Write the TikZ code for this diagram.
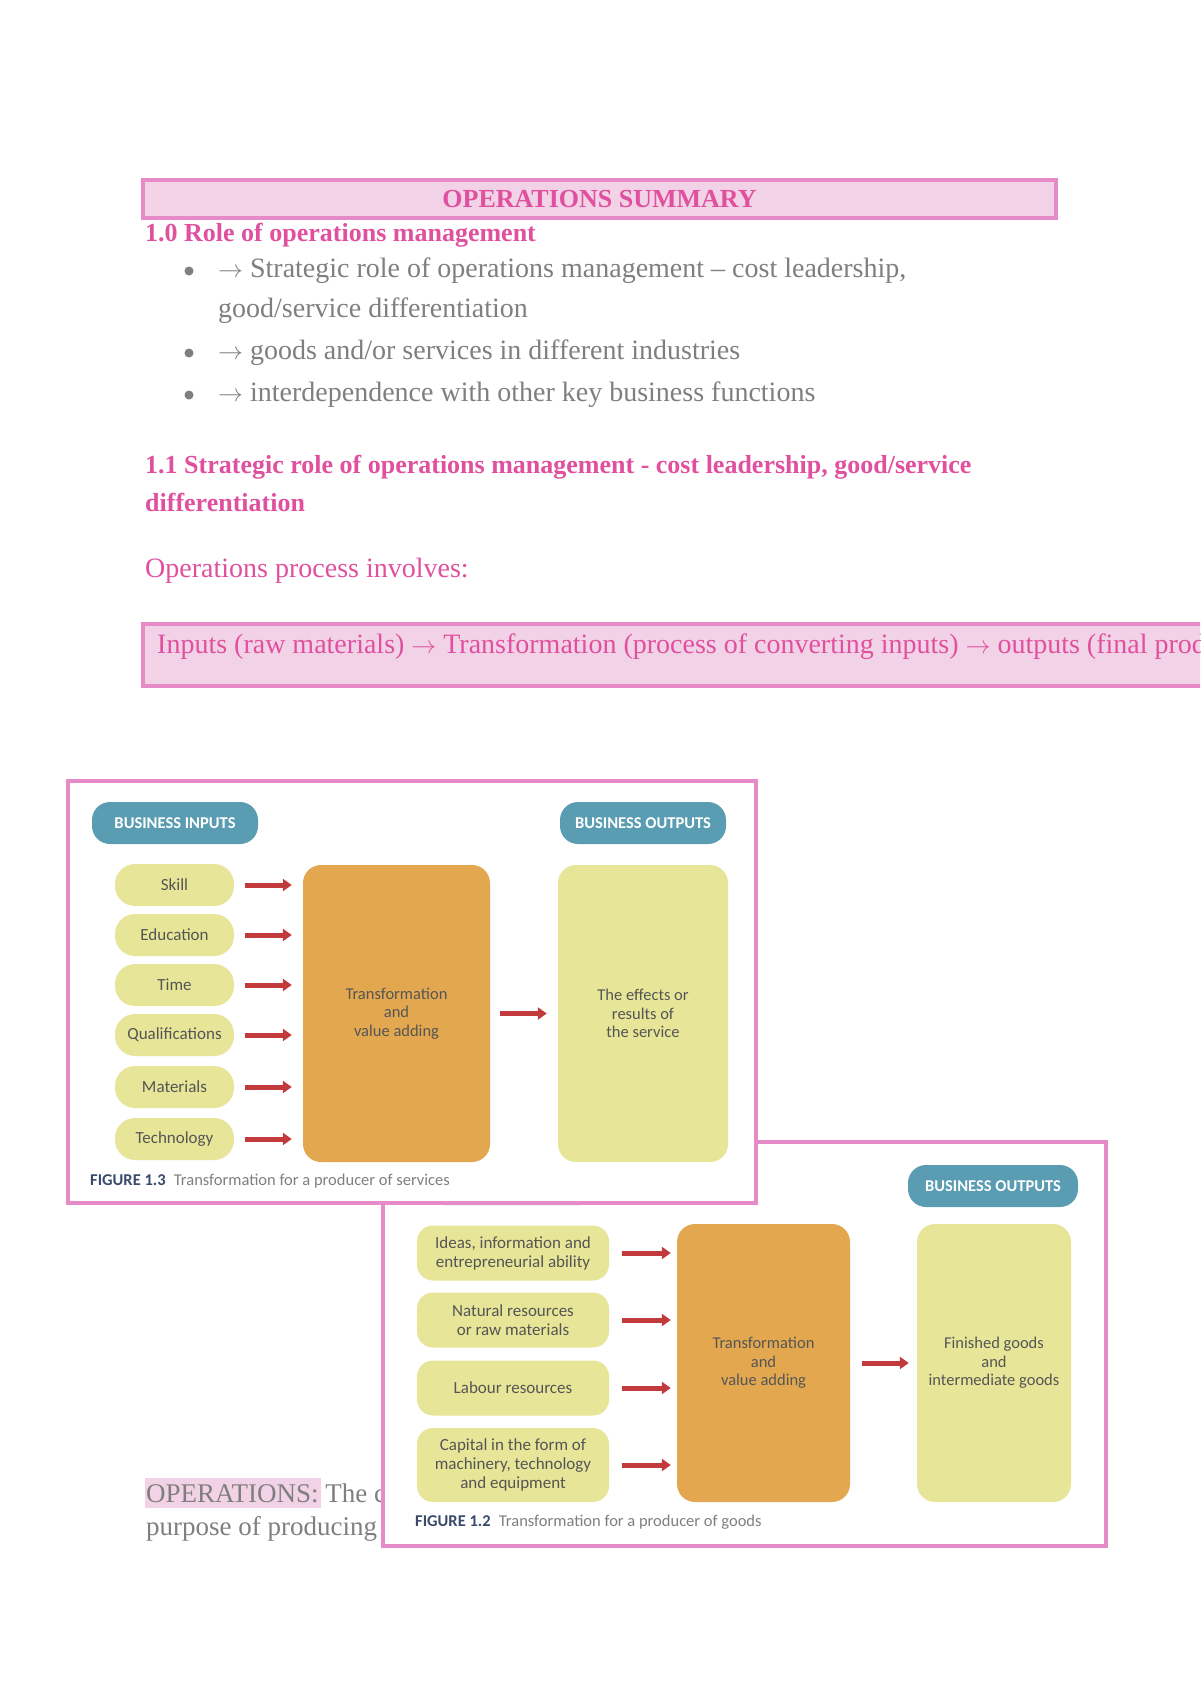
\documentclass[tikz,border=0pt]{standalone}
\usepackage{fontspec}
\setmainfont{Liberation Serif}
\newfontfamily\figfont{Carlito}
\usetikzlibrary{arrows.meta}
\definecolor{pinkline}{HTML}{E68AC8}
\definecolor{pinkfill}{HTML}{F2D2E6}
\definecolor{pinktext}{HTML}{E0509F}
\definecolor{graytext}{HTML}{7F7F7F}
\definecolor{teal}{HTML}{5A9DB2}
\definecolor{ylw}{HTML}{E7E698}
\definecolor{orng}{HTML}{E3A84F}
\definecolor{arrred}{HTML}{C23A3C}
\definecolor{capblue}{HTML}{3A4A6A}
\definecolor{figtext}{HTML}{555555}
\tikzset{
  head/.style={font=\fontsize{26}{30}\selectfont\bfseries, text=pinktext, anchor=west, inner sep=0},
  body/.style={font=\fontsize{28}{32}\selectfont, text=graytext, anchor=west, inner sep=0},
  frame/.style={draw=pinkline, line width=4pt, fill=white},
  pill/.style={fill=teal, rounded corners=18pt, text=white, font=\figfont\fontsize{16.5}{18}\selectfont\bfseries, inner sep=0},
  inbox/.style={fill=ylw, rounded corners=16pt, text=figtext, font=\figfont\fontsize{17}{19}\selectfont, inner sep=0, align=center},
  bigbox/.style={rounded corners=18pt, text=figtext, font=\figfont\fontsize{16.5}{18.5}\selectfont, inner sep=0, align=center},
  redarr/.style={draw=arrred, line width=5pt, -{Triangle[length=9pt,width=12pt]}},
  figcap/.style={anchor=west, inner sep=0, font=\figfont\fontsize{16.5}{18}\selectfont}
}
\begin{document}
\begin{tikzpicture}[x=1pt,y=-1pt]
\useasboundingbox (0,0) rectangle (1200,1696);
\fill[white] (0,0) rectangle (1200,1696);
% title
\node[draw=pinkline, fill=pinkfill, line width=4pt, minimum width=913pt, minimum height=38pt, inner sep=0,
  font=\fontsize{26}{30}\selectfont\bfseries, text=pinktext] (title) at (599.5,199) {OPERATIONS SUMMARY};
\node[head] (h10) at (145,235) {1.0 Role of operations management};
\foreach \y/\t [count=\i] in {271/{$\rightarrow$ Strategic role of operations management – cost leadership,},
  353/{$\rightarrow$ goods and/or services in different industries},
  395/{$\rightarrow$ interdependence with other key business functions}}{
  \fill[graytext] (189,\y) circle (4.5pt);
  \node[body] (b\i) at (218,\y) {\t};
}
\node[body] (b1b) at (218,311) {good/service differentiation};
\node[head] (h11) at (145,467) {1.1 Strategic role of operations management - cost leadership, good/service};
\node[head] (h11b) at (145,502) {differentiation};
\node[body, text=pinktext] (opi) at (145,571) {Operations process involves:};
\begin{scope}
\clip (0,0) rectangle (1200,1696);
\draw[draw=pinkline, fill=pinkfill, line width=4pt] (143,624) rectangle (1230,686);
\node[body, text=pinktext] (proc) at (157,647) {Inputs (raw materials) $\rightarrow$ Transformation (process of converting inputs) $\rightarrow$ outputs (final products)};
\end{scope}
% bottom text
\fill[pinkfill] (145,1478) rectangle (321,1508);
\node[body, font=\fontsize{27}{30}\selectfont] (ops) at (146,1493) {OPERATIONS: The c};
\node[body, font=\fontsize{27}{30}\selectfont] (purp) at (146,1529) {purpose of producing :};
% figure 2
\draw[frame] (383,1142) rectangle (1106,1546);
\node[pill, minimum width=170pt, minimum height=40pt] (bi2) at (512,1185) {};
\node[pill, minimum width=170pt, minimum height=42pt] (bo2) at (993,1186) {BUSINESS OUTPUTS};
\node[bigbox, fill=orng, minimum width=173pt, minimum height=278pt] (tr2) at (763.5,1363) {Transformation\\and\\value adding};
\node[bigbox, fill=ylw, minimum width=154pt, minimum height=278pt] (out2) at (994,1363) {Finished goods\\and\\intermediate goods};
\foreach \y/\h/\t [count=\i] in {1253/55/{Ideas, information and\\entrepreneurial ability},
  1320/55/{Natural resources\\or raw materials},
  1388/55/{Labour resources},
  1465/74/{Capital in the form of\\machinery, technology\\and equipment}}{
  \node[inbox, minimum width=192pt, minimum height=\h pt] (g\i) at (513,\y) {\t};
  \draw[redarr] (g\i.east) ++(13,0) coordinate (gs\i) -- ([xshift=-6pt]gs\i -| tr2.west) ;
}
\draw[redarr] ([xshift=12pt]tr2.east) -- ([xshift=-8pt]out2.west);
\node[figcap] (cap2) at (415,1522) {\textcolor{capblue}{\bfseries FIGURE 1.2}\enspace\textcolor{graytext}{Transformation for a producer of goods}};
% figure 1
\draw[frame] (68,781) rectangle (756,1203);
\node[pill, minimum width=166pt, minimum height=42pt] (bi1) at (175,823) {BUSINESS INPUTS};
\node[pill, minimum width=166pt, minimum height=42pt] (bo1) at (643,823) {BUSINESS OUTPUTS};
\node[bigbox, fill=orng, minimum width=187pt, minimum height=297pt] (tr1) at (396.5,1013.5) {Transformation\\and\\value adding};
\node[bigbox, fill=ylw, minimum width=170pt, minimum height=297pt] (out1) at (643,1013.5) {The effects or\\results of\\the service};
\foreach \y/\t [count=\i] in {885/Skill,935/Education,985/Time,1035/Qualifications,1087/Materials,1139/Technology}{
  \node[inbox, minimum width=119pt, minimum height=42pt, rounded corners=20pt] (s\i) at (174.5,\y) {\t};
  \draw[redarr] (s\i.east) ++(11,0) coordinate (ss\i) -- ([xshift=-11pt]ss\i -| tr1.west);
}
\draw[redarr] ([xshift=10pt]tr1.east) -- ([xshift=-11pt]out1.west);
\node[figcap] (cap1) at (90,1181) {\textcolor{capblue}{\bfseries FIGURE 1.3}\enspace\textcolor{graytext}{Transformation for a producer of services}};
\end{tikzpicture}
\end{document}
